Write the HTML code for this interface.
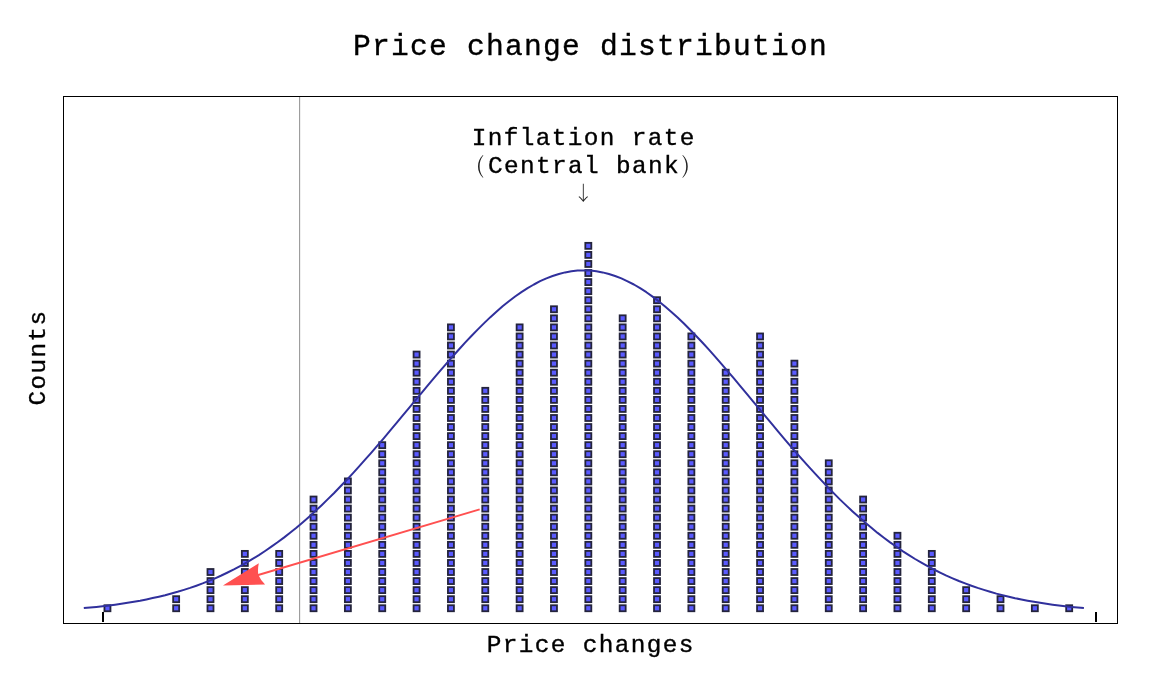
<!DOCTYPE html>
<html lang="en"><head><meta charset="utf-8"><title>Price change distribution</title>
<style>html,body{margin:0;padding:0;background:#fff;overflow:hidden}svg{display:block}text{font-family:"Liberation Mono","DejaVu Sans Mono",monospace;fill:#000;stroke:#000;stroke-width:.35px}.t{font-size:29.6px;letter-spacing:1.24px}.a{font-size:24.4px;letter-spacing:1.36px}.p{font-family:"Noto Serif CJK SC","Liberation Serif",serif;font-size:22px;letter-spacing:0;stroke:none;fill:#222}.m rect{fill:#5a5aff;stroke:#24243c;stroke-width:1.8}</style></head><body>
<svg width="1152" height="687" viewBox="0 0 1152 687">
<rect width="1152" height="687" fill="#fff"/>
<line x1="299.6" y1="97" x2="299.6" y2="623" stroke="#999" stroke-width="1.1"/>
<g class="m">
<rect x="104.45" y="605.25" width="6.00" height="6.00"/>
<rect x="173.15" y="605.25" width="6.00" height="6.00"/>
<rect x="173.15" y="596.19" width="6.00" height="6.00"/>
<rect x="207.49" y="605.25" width="6.00" height="6.00"/>
<rect x="207.49" y="596.19" width="6.00" height="6.00"/>
<rect x="207.49" y="587.13" width="6.00" height="6.00"/>
<rect x="207.49" y="578.07" width="6.00" height="6.00"/>
<rect x="207.49" y="569.01" width="6.00" height="6.00"/>
<rect x="241.84" y="605.25" width="6.00" height="6.00"/>
<rect x="241.84" y="596.19" width="6.00" height="6.00"/>
<rect x="241.84" y="587.13" width="6.00" height="6.00"/>
<rect x="241.84" y="578.07" width="6.00" height="6.00"/>
<rect x="241.84" y="569.01" width="6.00" height="6.00"/>
<rect x="241.84" y="559.95" width="6.00" height="6.00"/>
<rect x="241.84" y="550.89" width="6.00" height="6.00"/>
<rect x="276.19" y="605.25" width="6.00" height="6.00"/>
<rect x="276.19" y="596.19" width="6.00" height="6.00"/>
<rect x="276.19" y="587.13" width="6.00" height="6.00"/>
<rect x="276.19" y="578.07" width="6.00" height="6.00"/>
<rect x="276.19" y="569.01" width="6.00" height="6.00"/>
<rect x="276.19" y="559.95" width="6.00" height="6.00"/>
<rect x="276.19" y="550.89" width="6.00" height="6.00"/>
<rect x="310.54" y="605.25" width="6.00" height="6.00"/>
<rect x="310.54" y="596.19" width="6.00" height="6.00"/>
<rect x="310.54" y="587.13" width="6.00" height="6.00"/>
<rect x="310.54" y="578.07" width="6.00" height="6.00"/>
<rect x="310.54" y="569.01" width="6.00" height="6.00"/>
<rect x="310.54" y="559.95" width="6.00" height="6.00"/>
<rect x="310.54" y="550.89" width="6.00" height="6.00"/>
<rect x="310.54" y="541.83" width="6.00" height="6.00"/>
<rect x="310.54" y="532.77" width="6.00" height="6.00"/>
<rect x="310.54" y="523.71" width="6.00" height="6.00"/>
<rect x="310.54" y="514.65" width="6.00" height="6.00"/>
<rect x="310.54" y="505.59" width="6.00" height="6.00"/>
<rect x="310.54" y="496.53" width="6.00" height="6.00"/>
<rect x="344.89" y="605.25" width="6.00" height="6.00"/>
<rect x="344.89" y="596.19" width="6.00" height="6.00"/>
<rect x="344.89" y="587.13" width="6.00" height="6.00"/>
<rect x="344.89" y="578.07" width="6.00" height="6.00"/>
<rect x="344.89" y="569.01" width="6.00" height="6.00"/>
<rect x="344.89" y="559.95" width="6.00" height="6.00"/>
<rect x="344.89" y="550.89" width="6.00" height="6.00"/>
<rect x="344.89" y="541.83" width="6.00" height="6.00"/>
<rect x="344.89" y="532.77" width="6.00" height="6.00"/>
<rect x="344.89" y="523.71" width="6.00" height="6.00"/>
<rect x="344.89" y="514.65" width="6.00" height="6.00"/>
<rect x="344.89" y="505.59" width="6.00" height="6.00"/>
<rect x="344.89" y="496.53" width="6.00" height="6.00"/>
<rect x="344.89" y="487.47" width="6.00" height="6.00"/>
<rect x="344.89" y="478.41" width="6.00" height="6.00"/>
<rect x="379.23" y="605.25" width="6.00" height="6.00"/>
<rect x="379.23" y="596.19" width="6.00" height="6.00"/>
<rect x="379.23" y="587.13" width="6.00" height="6.00"/>
<rect x="379.23" y="578.07" width="6.00" height="6.00"/>
<rect x="379.23" y="569.01" width="6.00" height="6.00"/>
<rect x="379.23" y="559.95" width="6.00" height="6.00"/>
<rect x="379.23" y="550.89" width="6.00" height="6.00"/>
<rect x="379.23" y="541.83" width="6.00" height="6.00"/>
<rect x="379.23" y="532.77" width="6.00" height="6.00"/>
<rect x="379.23" y="523.71" width="6.00" height="6.00"/>
<rect x="379.23" y="514.65" width="6.00" height="6.00"/>
<rect x="379.23" y="505.59" width="6.00" height="6.00"/>
<rect x="379.23" y="496.53" width="6.00" height="6.00"/>
<rect x="379.23" y="487.47" width="6.00" height="6.00"/>
<rect x="379.23" y="478.41" width="6.00" height="6.00"/>
<rect x="379.23" y="469.35" width="6.00" height="6.00"/>
<rect x="379.23" y="460.29" width="6.00" height="6.00"/>
<rect x="379.23" y="451.23" width="6.00" height="6.00"/>
<rect x="379.23" y="442.17" width="6.00" height="6.00"/>
<rect x="413.58" y="605.25" width="6.00" height="6.00"/>
<rect x="413.58" y="596.19" width="6.00" height="6.00"/>
<rect x="413.58" y="587.13" width="6.00" height="6.00"/>
<rect x="413.58" y="578.07" width="6.00" height="6.00"/>
<rect x="413.58" y="569.01" width="6.00" height="6.00"/>
<rect x="413.58" y="559.95" width="6.00" height="6.00"/>
<rect x="413.58" y="550.89" width="6.00" height="6.00"/>
<rect x="413.58" y="541.83" width="6.00" height="6.00"/>
<rect x="413.58" y="532.77" width="6.00" height="6.00"/>
<rect x="413.58" y="523.71" width="6.00" height="6.00"/>
<rect x="413.58" y="514.65" width="6.00" height="6.00"/>
<rect x="413.58" y="505.59" width="6.00" height="6.00"/>
<rect x="413.58" y="496.53" width="6.00" height="6.00"/>
<rect x="413.58" y="487.47" width="6.00" height="6.00"/>
<rect x="413.58" y="478.41" width="6.00" height="6.00"/>
<rect x="413.58" y="469.35" width="6.00" height="6.00"/>
<rect x="413.58" y="460.29" width="6.00" height="6.00"/>
<rect x="413.58" y="451.23" width="6.00" height="6.00"/>
<rect x="413.58" y="442.17" width="6.00" height="6.00"/>
<rect x="413.58" y="433.11" width="6.00" height="6.00"/>
<rect x="413.58" y="424.05" width="6.00" height="6.00"/>
<rect x="413.58" y="414.99" width="6.00" height="6.00"/>
<rect x="413.58" y="405.93" width="6.00" height="6.00"/>
<rect x="413.58" y="396.87" width="6.00" height="6.00"/>
<rect x="413.58" y="387.81" width="6.00" height="6.00"/>
<rect x="413.58" y="378.75" width="6.00" height="6.00"/>
<rect x="413.58" y="369.69" width="6.00" height="6.00"/>
<rect x="413.58" y="360.63" width="6.00" height="6.00"/>
<rect x="413.58" y="351.57" width="6.00" height="6.00"/>
<rect x="447.93" y="605.25" width="6.00" height="6.00"/>
<rect x="447.93" y="596.19" width="6.00" height="6.00"/>
<rect x="447.93" y="587.13" width="6.00" height="6.00"/>
<rect x="447.93" y="578.07" width="6.00" height="6.00"/>
<rect x="447.93" y="569.01" width="6.00" height="6.00"/>
<rect x="447.93" y="559.95" width="6.00" height="6.00"/>
<rect x="447.93" y="550.89" width="6.00" height="6.00"/>
<rect x="447.93" y="541.83" width="6.00" height="6.00"/>
<rect x="447.93" y="532.77" width="6.00" height="6.00"/>
<rect x="447.93" y="523.71" width="6.00" height="6.00"/>
<rect x="447.93" y="514.65" width="6.00" height="6.00"/>
<rect x="447.93" y="505.59" width="6.00" height="6.00"/>
<rect x="447.93" y="496.53" width="6.00" height="6.00"/>
<rect x="447.93" y="487.47" width="6.00" height="6.00"/>
<rect x="447.93" y="478.41" width="6.00" height="6.00"/>
<rect x="447.93" y="469.35" width="6.00" height="6.00"/>
<rect x="447.93" y="460.29" width="6.00" height="6.00"/>
<rect x="447.93" y="451.23" width="6.00" height="6.00"/>
<rect x="447.93" y="442.17" width="6.00" height="6.00"/>
<rect x="447.93" y="433.11" width="6.00" height="6.00"/>
<rect x="447.93" y="424.05" width="6.00" height="6.00"/>
<rect x="447.93" y="414.99" width="6.00" height="6.00"/>
<rect x="447.93" y="405.93" width="6.00" height="6.00"/>
<rect x="447.93" y="396.87" width="6.00" height="6.00"/>
<rect x="447.93" y="387.81" width="6.00" height="6.00"/>
<rect x="447.93" y="378.75" width="6.00" height="6.00"/>
<rect x="447.93" y="369.69" width="6.00" height="6.00"/>
<rect x="447.93" y="360.63" width="6.00" height="6.00"/>
<rect x="447.93" y="351.57" width="6.00" height="6.00"/>
<rect x="447.93" y="342.51" width="6.00" height="6.00"/>
<rect x="447.93" y="333.45" width="6.00" height="6.00"/>
<rect x="447.93" y="324.39" width="6.00" height="6.00"/>
<rect x="482.28" y="605.25" width="6.00" height="6.00"/>
<rect x="482.28" y="596.19" width="6.00" height="6.00"/>
<rect x="482.28" y="587.13" width="6.00" height="6.00"/>
<rect x="482.28" y="578.07" width="6.00" height="6.00"/>
<rect x="482.28" y="569.01" width="6.00" height="6.00"/>
<rect x="482.28" y="559.95" width="6.00" height="6.00"/>
<rect x="482.28" y="550.89" width="6.00" height="6.00"/>
<rect x="482.28" y="541.83" width="6.00" height="6.00"/>
<rect x="482.28" y="532.77" width="6.00" height="6.00"/>
<rect x="482.28" y="523.71" width="6.00" height="6.00"/>
<rect x="482.28" y="514.65" width="6.00" height="6.00"/>
<rect x="482.28" y="505.59" width="6.00" height="6.00"/>
<rect x="482.28" y="496.53" width="6.00" height="6.00"/>
<rect x="482.28" y="487.47" width="6.00" height="6.00"/>
<rect x="482.28" y="478.41" width="6.00" height="6.00"/>
<rect x="482.28" y="469.35" width="6.00" height="6.00"/>
<rect x="482.28" y="460.29" width="6.00" height="6.00"/>
<rect x="482.28" y="451.23" width="6.00" height="6.00"/>
<rect x="482.28" y="442.17" width="6.00" height="6.00"/>
<rect x="482.28" y="433.11" width="6.00" height="6.00"/>
<rect x="482.28" y="424.05" width="6.00" height="6.00"/>
<rect x="482.28" y="414.99" width="6.00" height="6.00"/>
<rect x="482.28" y="405.93" width="6.00" height="6.00"/>
<rect x="482.28" y="396.87" width="6.00" height="6.00"/>
<rect x="482.28" y="387.81" width="6.00" height="6.00"/>
<rect x="516.63" y="605.25" width="6.00" height="6.00"/>
<rect x="516.63" y="596.19" width="6.00" height="6.00"/>
<rect x="516.63" y="587.13" width="6.00" height="6.00"/>
<rect x="516.63" y="578.07" width="6.00" height="6.00"/>
<rect x="516.63" y="569.01" width="6.00" height="6.00"/>
<rect x="516.63" y="559.95" width="6.00" height="6.00"/>
<rect x="516.63" y="550.89" width="6.00" height="6.00"/>
<rect x="516.63" y="541.83" width="6.00" height="6.00"/>
<rect x="516.63" y="532.77" width="6.00" height="6.00"/>
<rect x="516.63" y="523.71" width="6.00" height="6.00"/>
<rect x="516.63" y="514.65" width="6.00" height="6.00"/>
<rect x="516.63" y="505.59" width="6.00" height="6.00"/>
<rect x="516.63" y="496.53" width="6.00" height="6.00"/>
<rect x="516.63" y="487.47" width="6.00" height="6.00"/>
<rect x="516.63" y="478.41" width="6.00" height="6.00"/>
<rect x="516.63" y="469.35" width="6.00" height="6.00"/>
<rect x="516.63" y="460.29" width="6.00" height="6.00"/>
<rect x="516.63" y="451.23" width="6.00" height="6.00"/>
<rect x="516.63" y="442.17" width="6.00" height="6.00"/>
<rect x="516.63" y="433.11" width="6.00" height="6.00"/>
<rect x="516.63" y="424.05" width="6.00" height="6.00"/>
<rect x="516.63" y="414.99" width="6.00" height="6.00"/>
<rect x="516.63" y="405.93" width="6.00" height="6.00"/>
<rect x="516.63" y="396.87" width="6.00" height="6.00"/>
<rect x="516.63" y="387.81" width="6.00" height="6.00"/>
<rect x="516.63" y="378.75" width="6.00" height="6.00"/>
<rect x="516.63" y="369.69" width="6.00" height="6.00"/>
<rect x="516.63" y="360.63" width="6.00" height="6.00"/>
<rect x="516.63" y="351.57" width="6.00" height="6.00"/>
<rect x="516.63" y="342.51" width="6.00" height="6.00"/>
<rect x="516.63" y="333.45" width="6.00" height="6.00"/>
<rect x="516.63" y="324.39" width="6.00" height="6.00"/>
<rect x="550.97" y="605.25" width="6.00" height="6.00"/>
<rect x="550.97" y="596.19" width="6.00" height="6.00"/>
<rect x="550.97" y="587.13" width="6.00" height="6.00"/>
<rect x="550.97" y="578.07" width="6.00" height="6.00"/>
<rect x="550.97" y="569.01" width="6.00" height="6.00"/>
<rect x="550.97" y="559.95" width="6.00" height="6.00"/>
<rect x="550.97" y="550.89" width="6.00" height="6.00"/>
<rect x="550.97" y="541.83" width="6.00" height="6.00"/>
<rect x="550.97" y="532.77" width="6.00" height="6.00"/>
<rect x="550.97" y="523.71" width="6.00" height="6.00"/>
<rect x="550.97" y="514.65" width="6.00" height="6.00"/>
<rect x="550.97" y="505.59" width="6.00" height="6.00"/>
<rect x="550.97" y="496.53" width="6.00" height="6.00"/>
<rect x="550.97" y="487.47" width="6.00" height="6.00"/>
<rect x="550.97" y="478.41" width="6.00" height="6.00"/>
<rect x="550.97" y="469.35" width="6.00" height="6.00"/>
<rect x="550.97" y="460.29" width="6.00" height="6.00"/>
<rect x="550.97" y="451.23" width="6.00" height="6.00"/>
<rect x="550.97" y="442.17" width="6.00" height="6.00"/>
<rect x="550.97" y="433.11" width="6.00" height="6.00"/>
<rect x="550.97" y="424.05" width="6.00" height="6.00"/>
<rect x="550.97" y="414.99" width="6.00" height="6.00"/>
<rect x="550.97" y="405.93" width="6.00" height="6.00"/>
<rect x="550.97" y="396.87" width="6.00" height="6.00"/>
<rect x="550.97" y="387.81" width="6.00" height="6.00"/>
<rect x="550.97" y="378.75" width="6.00" height="6.00"/>
<rect x="550.97" y="369.69" width="6.00" height="6.00"/>
<rect x="550.97" y="360.63" width="6.00" height="6.00"/>
<rect x="550.97" y="351.57" width="6.00" height="6.00"/>
<rect x="550.97" y="342.51" width="6.00" height="6.00"/>
<rect x="550.97" y="333.45" width="6.00" height="6.00"/>
<rect x="550.97" y="324.39" width="6.00" height="6.00"/>
<rect x="550.97" y="315.33" width="6.00" height="6.00"/>
<rect x="550.97" y="306.27" width="6.00" height="6.00"/>
<rect x="585.32" y="605.25" width="6.00" height="6.00"/>
<rect x="585.32" y="596.19" width="6.00" height="6.00"/>
<rect x="585.32" y="587.13" width="6.00" height="6.00"/>
<rect x="585.32" y="578.07" width="6.00" height="6.00"/>
<rect x="585.32" y="569.01" width="6.00" height="6.00"/>
<rect x="585.32" y="559.95" width="6.00" height="6.00"/>
<rect x="585.32" y="550.89" width="6.00" height="6.00"/>
<rect x="585.32" y="541.83" width="6.00" height="6.00"/>
<rect x="585.32" y="532.77" width="6.00" height="6.00"/>
<rect x="585.32" y="523.71" width="6.00" height="6.00"/>
<rect x="585.32" y="514.65" width="6.00" height="6.00"/>
<rect x="585.32" y="505.59" width="6.00" height="6.00"/>
<rect x="585.32" y="496.53" width="6.00" height="6.00"/>
<rect x="585.32" y="487.47" width="6.00" height="6.00"/>
<rect x="585.32" y="478.41" width="6.00" height="6.00"/>
<rect x="585.32" y="469.35" width="6.00" height="6.00"/>
<rect x="585.32" y="460.29" width="6.00" height="6.00"/>
<rect x="585.32" y="451.23" width="6.00" height="6.00"/>
<rect x="585.32" y="442.17" width="6.00" height="6.00"/>
<rect x="585.32" y="433.11" width="6.00" height="6.00"/>
<rect x="585.32" y="424.05" width="6.00" height="6.00"/>
<rect x="585.32" y="414.99" width="6.00" height="6.00"/>
<rect x="585.32" y="405.93" width="6.00" height="6.00"/>
<rect x="585.32" y="396.87" width="6.00" height="6.00"/>
<rect x="585.32" y="387.81" width="6.00" height="6.00"/>
<rect x="585.32" y="378.75" width="6.00" height="6.00"/>
<rect x="585.32" y="369.69" width="6.00" height="6.00"/>
<rect x="585.32" y="360.63" width="6.00" height="6.00"/>
<rect x="585.32" y="351.57" width="6.00" height="6.00"/>
<rect x="585.32" y="342.51" width="6.00" height="6.00"/>
<rect x="585.32" y="333.45" width="6.00" height="6.00"/>
<rect x="585.32" y="324.39" width="6.00" height="6.00"/>
<rect x="585.32" y="315.33" width="6.00" height="6.00"/>
<rect x="585.32" y="306.27" width="6.00" height="6.00"/>
<rect x="585.32" y="297.21" width="6.00" height="6.00"/>
<rect x="585.32" y="288.15" width="6.00" height="6.00"/>
<rect x="585.32" y="279.09" width="6.00" height="6.00"/>
<rect x="585.32" y="270.03" width="6.00" height="6.00"/>
<rect x="585.32" y="260.97" width="6.00" height="6.00"/>
<rect x="585.32" y="251.91" width="6.00" height="6.00"/>
<rect x="585.32" y="242.85" width="6.00" height="6.00"/>
<rect x="619.67" y="605.25" width="6.00" height="6.00"/>
<rect x="619.67" y="596.19" width="6.00" height="6.00"/>
<rect x="619.67" y="587.13" width="6.00" height="6.00"/>
<rect x="619.67" y="578.07" width="6.00" height="6.00"/>
<rect x="619.67" y="569.01" width="6.00" height="6.00"/>
<rect x="619.67" y="559.95" width="6.00" height="6.00"/>
<rect x="619.67" y="550.89" width="6.00" height="6.00"/>
<rect x="619.67" y="541.83" width="6.00" height="6.00"/>
<rect x="619.67" y="532.77" width="6.00" height="6.00"/>
<rect x="619.67" y="523.71" width="6.00" height="6.00"/>
<rect x="619.67" y="514.65" width="6.00" height="6.00"/>
<rect x="619.67" y="505.59" width="6.00" height="6.00"/>
<rect x="619.67" y="496.53" width="6.00" height="6.00"/>
<rect x="619.67" y="487.47" width="6.00" height="6.00"/>
<rect x="619.67" y="478.41" width="6.00" height="6.00"/>
<rect x="619.67" y="469.35" width="6.00" height="6.00"/>
<rect x="619.67" y="460.29" width="6.00" height="6.00"/>
<rect x="619.67" y="451.23" width="6.00" height="6.00"/>
<rect x="619.67" y="442.17" width="6.00" height="6.00"/>
<rect x="619.67" y="433.11" width="6.00" height="6.00"/>
<rect x="619.67" y="424.05" width="6.00" height="6.00"/>
<rect x="619.67" y="414.99" width="6.00" height="6.00"/>
<rect x="619.67" y="405.93" width="6.00" height="6.00"/>
<rect x="619.67" y="396.87" width="6.00" height="6.00"/>
<rect x="619.67" y="387.81" width="6.00" height="6.00"/>
<rect x="619.67" y="378.75" width="6.00" height="6.00"/>
<rect x="619.67" y="369.69" width="6.00" height="6.00"/>
<rect x="619.67" y="360.63" width="6.00" height="6.00"/>
<rect x="619.67" y="351.57" width="6.00" height="6.00"/>
<rect x="619.67" y="342.51" width="6.00" height="6.00"/>
<rect x="619.67" y="333.45" width="6.00" height="6.00"/>
<rect x="619.67" y="324.39" width="6.00" height="6.00"/>
<rect x="619.67" y="315.33" width="6.00" height="6.00"/>
<rect x="654.02" y="605.25" width="6.00" height="6.00"/>
<rect x="654.02" y="596.19" width="6.00" height="6.00"/>
<rect x="654.02" y="587.13" width="6.00" height="6.00"/>
<rect x="654.02" y="578.07" width="6.00" height="6.00"/>
<rect x="654.02" y="569.01" width="6.00" height="6.00"/>
<rect x="654.02" y="559.95" width="6.00" height="6.00"/>
<rect x="654.02" y="550.89" width="6.00" height="6.00"/>
<rect x="654.02" y="541.83" width="6.00" height="6.00"/>
<rect x="654.02" y="532.77" width="6.00" height="6.00"/>
<rect x="654.02" y="523.71" width="6.00" height="6.00"/>
<rect x="654.02" y="514.65" width="6.00" height="6.00"/>
<rect x="654.02" y="505.59" width="6.00" height="6.00"/>
<rect x="654.02" y="496.53" width="6.00" height="6.00"/>
<rect x="654.02" y="487.47" width="6.00" height="6.00"/>
<rect x="654.02" y="478.41" width="6.00" height="6.00"/>
<rect x="654.02" y="469.35" width="6.00" height="6.00"/>
<rect x="654.02" y="460.29" width="6.00" height="6.00"/>
<rect x="654.02" y="451.23" width="6.00" height="6.00"/>
<rect x="654.02" y="442.17" width="6.00" height="6.00"/>
<rect x="654.02" y="433.11" width="6.00" height="6.00"/>
<rect x="654.02" y="424.05" width="6.00" height="6.00"/>
<rect x="654.02" y="414.99" width="6.00" height="6.00"/>
<rect x="654.02" y="405.93" width="6.00" height="6.00"/>
<rect x="654.02" y="396.87" width="6.00" height="6.00"/>
<rect x="654.02" y="387.81" width="6.00" height="6.00"/>
<rect x="654.02" y="378.75" width="6.00" height="6.00"/>
<rect x="654.02" y="369.69" width="6.00" height="6.00"/>
<rect x="654.02" y="360.63" width="6.00" height="6.00"/>
<rect x="654.02" y="351.57" width="6.00" height="6.00"/>
<rect x="654.02" y="342.51" width="6.00" height="6.00"/>
<rect x="654.02" y="333.45" width="6.00" height="6.00"/>
<rect x="654.02" y="324.39" width="6.00" height="6.00"/>
<rect x="654.02" y="315.33" width="6.00" height="6.00"/>
<rect x="654.02" y="306.27" width="6.00" height="6.00"/>
<rect x="654.02" y="297.21" width="6.00" height="6.00"/>
<rect x="688.37" y="605.25" width="6.00" height="6.00"/>
<rect x="688.37" y="596.19" width="6.00" height="6.00"/>
<rect x="688.37" y="587.13" width="6.00" height="6.00"/>
<rect x="688.37" y="578.07" width="6.00" height="6.00"/>
<rect x="688.37" y="569.01" width="6.00" height="6.00"/>
<rect x="688.37" y="559.95" width="6.00" height="6.00"/>
<rect x="688.37" y="550.89" width="6.00" height="6.00"/>
<rect x="688.37" y="541.83" width="6.00" height="6.00"/>
<rect x="688.37" y="532.77" width="6.00" height="6.00"/>
<rect x="688.37" y="523.71" width="6.00" height="6.00"/>
<rect x="688.37" y="514.65" width="6.00" height="6.00"/>
<rect x="688.37" y="505.59" width="6.00" height="6.00"/>
<rect x="688.37" y="496.53" width="6.00" height="6.00"/>
<rect x="688.37" y="487.47" width="6.00" height="6.00"/>
<rect x="688.37" y="478.41" width="6.00" height="6.00"/>
<rect x="688.37" y="469.35" width="6.00" height="6.00"/>
<rect x="688.37" y="460.29" width="6.00" height="6.00"/>
<rect x="688.37" y="451.23" width="6.00" height="6.00"/>
<rect x="688.37" y="442.17" width="6.00" height="6.00"/>
<rect x="688.37" y="433.11" width="6.00" height="6.00"/>
<rect x="688.37" y="424.05" width="6.00" height="6.00"/>
<rect x="688.37" y="414.99" width="6.00" height="6.00"/>
<rect x="688.37" y="405.93" width="6.00" height="6.00"/>
<rect x="688.37" y="396.87" width="6.00" height="6.00"/>
<rect x="688.37" y="387.81" width="6.00" height="6.00"/>
<rect x="688.37" y="378.75" width="6.00" height="6.00"/>
<rect x="688.37" y="369.69" width="6.00" height="6.00"/>
<rect x="688.37" y="360.63" width="6.00" height="6.00"/>
<rect x="688.37" y="351.57" width="6.00" height="6.00"/>
<rect x="688.37" y="342.51" width="6.00" height="6.00"/>
<rect x="688.37" y="333.45" width="6.00" height="6.00"/>
<rect x="722.71" y="605.25" width="6.00" height="6.00"/>
<rect x="722.71" y="596.19" width="6.00" height="6.00"/>
<rect x="722.71" y="587.13" width="6.00" height="6.00"/>
<rect x="722.71" y="578.07" width="6.00" height="6.00"/>
<rect x="722.71" y="569.01" width="6.00" height="6.00"/>
<rect x="722.71" y="559.95" width="6.00" height="6.00"/>
<rect x="722.71" y="550.89" width="6.00" height="6.00"/>
<rect x="722.71" y="541.83" width="6.00" height="6.00"/>
<rect x="722.71" y="532.77" width="6.00" height="6.00"/>
<rect x="722.71" y="523.71" width="6.00" height="6.00"/>
<rect x="722.71" y="514.65" width="6.00" height="6.00"/>
<rect x="722.71" y="505.59" width="6.00" height="6.00"/>
<rect x="722.71" y="496.53" width="6.00" height="6.00"/>
<rect x="722.71" y="487.47" width="6.00" height="6.00"/>
<rect x="722.71" y="478.41" width="6.00" height="6.00"/>
<rect x="722.71" y="469.35" width="6.00" height="6.00"/>
<rect x="722.71" y="460.29" width="6.00" height="6.00"/>
<rect x="722.71" y="451.23" width="6.00" height="6.00"/>
<rect x="722.71" y="442.17" width="6.00" height="6.00"/>
<rect x="722.71" y="433.11" width="6.00" height="6.00"/>
<rect x="722.71" y="424.05" width="6.00" height="6.00"/>
<rect x="722.71" y="414.99" width="6.00" height="6.00"/>
<rect x="722.71" y="405.93" width="6.00" height="6.00"/>
<rect x="722.71" y="396.87" width="6.00" height="6.00"/>
<rect x="722.71" y="387.81" width="6.00" height="6.00"/>
<rect x="722.71" y="378.75" width="6.00" height="6.00"/>
<rect x="722.71" y="369.69" width="6.00" height="6.00"/>
<rect x="757.06" y="605.25" width="6.00" height="6.00"/>
<rect x="757.06" y="596.19" width="6.00" height="6.00"/>
<rect x="757.06" y="587.13" width="6.00" height="6.00"/>
<rect x="757.06" y="578.07" width="6.00" height="6.00"/>
<rect x="757.06" y="569.01" width="6.00" height="6.00"/>
<rect x="757.06" y="559.95" width="6.00" height="6.00"/>
<rect x="757.06" y="550.89" width="6.00" height="6.00"/>
<rect x="757.06" y="541.83" width="6.00" height="6.00"/>
<rect x="757.06" y="532.77" width="6.00" height="6.00"/>
<rect x="757.06" y="523.71" width="6.00" height="6.00"/>
<rect x="757.06" y="514.65" width="6.00" height="6.00"/>
<rect x="757.06" y="505.59" width="6.00" height="6.00"/>
<rect x="757.06" y="496.53" width="6.00" height="6.00"/>
<rect x="757.06" y="487.47" width="6.00" height="6.00"/>
<rect x="757.06" y="478.41" width="6.00" height="6.00"/>
<rect x="757.06" y="469.35" width="6.00" height="6.00"/>
<rect x="757.06" y="460.29" width="6.00" height="6.00"/>
<rect x="757.06" y="451.23" width="6.00" height="6.00"/>
<rect x="757.06" y="442.17" width="6.00" height="6.00"/>
<rect x="757.06" y="433.11" width="6.00" height="6.00"/>
<rect x="757.06" y="424.05" width="6.00" height="6.00"/>
<rect x="757.06" y="414.99" width="6.00" height="6.00"/>
<rect x="757.06" y="405.93" width="6.00" height="6.00"/>
<rect x="757.06" y="396.87" width="6.00" height="6.00"/>
<rect x="757.06" y="387.81" width="6.00" height="6.00"/>
<rect x="757.06" y="378.75" width="6.00" height="6.00"/>
<rect x="757.06" y="369.69" width="6.00" height="6.00"/>
<rect x="757.06" y="360.63" width="6.00" height="6.00"/>
<rect x="757.06" y="351.57" width="6.00" height="6.00"/>
<rect x="757.06" y="342.51" width="6.00" height="6.00"/>
<rect x="757.06" y="333.45" width="6.00" height="6.00"/>
<rect x="791.41" y="605.25" width="6.00" height="6.00"/>
<rect x="791.41" y="596.19" width="6.00" height="6.00"/>
<rect x="791.41" y="587.13" width="6.00" height="6.00"/>
<rect x="791.41" y="578.07" width="6.00" height="6.00"/>
<rect x="791.41" y="569.01" width="6.00" height="6.00"/>
<rect x="791.41" y="559.95" width="6.00" height="6.00"/>
<rect x="791.41" y="550.89" width="6.00" height="6.00"/>
<rect x="791.41" y="541.83" width="6.00" height="6.00"/>
<rect x="791.41" y="532.77" width="6.00" height="6.00"/>
<rect x="791.41" y="523.71" width="6.00" height="6.00"/>
<rect x="791.41" y="514.65" width="6.00" height="6.00"/>
<rect x="791.41" y="505.59" width="6.00" height="6.00"/>
<rect x="791.41" y="496.53" width="6.00" height="6.00"/>
<rect x="791.41" y="487.47" width="6.00" height="6.00"/>
<rect x="791.41" y="478.41" width="6.00" height="6.00"/>
<rect x="791.41" y="469.35" width="6.00" height="6.00"/>
<rect x="791.41" y="460.29" width="6.00" height="6.00"/>
<rect x="791.41" y="451.23" width="6.00" height="6.00"/>
<rect x="791.41" y="442.17" width="6.00" height="6.00"/>
<rect x="791.41" y="433.11" width="6.00" height="6.00"/>
<rect x="791.41" y="424.05" width="6.00" height="6.00"/>
<rect x="791.41" y="414.99" width="6.00" height="6.00"/>
<rect x="791.41" y="405.93" width="6.00" height="6.00"/>
<rect x="791.41" y="396.87" width="6.00" height="6.00"/>
<rect x="791.41" y="387.81" width="6.00" height="6.00"/>
<rect x="791.41" y="378.75" width="6.00" height="6.00"/>
<rect x="791.41" y="369.69" width="6.00" height="6.00"/>
<rect x="791.41" y="360.63" width="6.00" height="6.00"/>
<rect x="825.76" y="605.25" width="6.00" height="6.00"/>
<rect x="825.76" y="596.19" width="6.00" height="6.00"/>
<rect x="825.76" y="587.13" width="6.00" height="6.00"/>
<rect x="825.76" y="578.07" width="6.00" height="6.00"/>
<rect x="825.76" y="569.01" width="6.00" height="6.00"/>
<rect x="825.76" y="559.95" width="6.00" height="6.00"/>
<rect x="825.76" y="550.89" width="6.00" height="6.00"/>
<rect x="825.76" y="541.83" width="6.00" height="6.00"/>
<rect x="825.76" y="532.77" width="6.00" height="6.00"/>
<rect x="825.76" y="523.71" width="6.00" height="6.00"/>
<rect x="825.76" y="514.65" width="6.00" height="6.00"/>
<rect x="825.76" y="505.59" width="6.00" height="6.00"/>
<rect x="825.76" y="496.53" width="6.00" height="6.00"/>
<rect x="825.76" y="487.47" width="6.00" height="6.00"/>
<rect x="825.76" y="478.41" width="6.00" height="6.00"/>
<rect x="825.76" y="469.35" width="6.00" height="6.00"/>
<rect x="825.76" y="460.29" width="6.00" height="6.00"/>
<rect x="860.11" y="605.25" width="6.00" height="6.00"/>
<rect x="860.11" y="596.19" width="6.00" height="6.00"/>
<rect x="860.11" y="587.13" width="6.00" height="6.00"/>
<rect x="860.11" y="578.07" width="6.00" height="6.00"/>
<rect x="860.11" y="569.01" width="6.00" height="6.00"/>
<rect x="860.11" y="559.95" width="6.00" height="6.00"/>
<rect x="860.11" y="550.89" width="6.00" height="6.00"/>
<rect x="860.11" y="541.83" width="6.00" height="6.00"/>
<rect x="860.11" y="532.77" width="6.00" height="6.00"/>
<rect x="860.11" y="523.71" width="6.00" height="6.00"/>
<rect x="860.11" y="514.65" width="6.00" height="6.00"/>
<rect x="860.11" y="505.59" width="6.00" height="6.00"/>
<rect x="860.11" y="496.53" width="6.00" height="6.00"/>
<rect x="894.45" y="605.25" width="6.00" height="6.00"/>
<rect x="894.45" y="596.19" width="6.00" height="6.00"/>
<rect x="894.45" y="587.13" width="6.00" height="6.00"/>
<rect x="894.45" y="578.07" width="6.00" height="6.00"/>
<rect x="894.45" y="569.01" width="6.00" height="6.00"/>
<rect x="894.45" y="559.95" width="6.00" height="6.00"/>
<rect x="894.45" y="550.89" width="6.00" height="6.00"/>
<rect x="894.45" y="541.83" width="6.00" height="6.00"/>
<rect x="894.45" y="532.77" width="6.00" height="6.00"/>
<rect x="928.80" y="605.25" width="6.00" height="6.00"/>
<rect x="928.80" y="596.19" width="6.00" height="6.00"/>
<rect x="928.80" y="587.13" width="6.00" height="6.00"/>
<rect x="928.80" y="578.07" width="6.00" height="6.00"/>
<rect x="928.80" y="569.01" width="6.00" height="6.00"/>
<rect x="928.80" y="559.95" width="6.00" height="6.00"/>
<rect x="928.80" y="550.89" width="6.00" height="6.00"/>
<rect x="963.15" y="605.25" width="6.00" height="6.00"/>
<rect x="963.15" y="596.19" width="6.00" height="6.00"/>
<rect x="963.15" y="587.13" width="6.00" height="6.00"/>
<rect x="997.50" y="605.25" width="6.00" height="6.00"/>
<rect x="997.50" y="596.19" width="6.00" height="6.00"/>
<rect x="1031.85" y="605.25" width="6.00" height="6.00"/>
<rect x="1066.19" y="605.25" width="6.00" height="6.00"/>
</g>
<path d="M83.8 608.1 L90.1 607.5 L96.4 606.9 L102.6 606.2 L108.9 605.5 L115.1 604.7 L121.4 603.8 L127.6 602.8 L133.9 601.8 L140.1 600.7 L146.4 599.4 L152.6 598.1 L158.9 596.7 L165.1 595.2 L171.4 593.5 L177.6 591.8 L183.9 589.9 L190.1 587.9 L196.4 585.7 L202.6 583.4 L208.9 580.9 L215.1 578.3 L221.4 575.5 L227.6 572.5 L233.9 569.4 L240.1 566.1 L246.4 562.6 L252.6 558.9 L258.9 555.1 L265.1 551.0 L271.4 546.7 L277.6 542.3 L283.9 537.6 L290.1 532.7 L296.4 527.7 L302.6 522.4 L308.9 516.9 L315.1 511.3 L321.4 505.4 L327.6 499.4 L333.9 493.2 L340.1 486.8 L346.4 480.3 L352.6 473.6 L358.9 466.7 L365.1 459.7 L371.4 452.6 L377.6 445.4 L383.9 438.1 L390.1 430.7 L396.4 423.2 L402.6 415.7 L408.9 408.2 L415.1 400.7 L421.4 393.2 L427.6 385.7 L433.9 378.2 L440.1 370.9 L446.4 363.6 L452.6 356.5 L458.9 349.5 L465.1 342.6 L471.4 336.0 L477.6 329.6 L483.9 323.4 L490.1 317.4 L496.4 311.7 L502.6 306.3 L508.9 301.3 L515.1 296.5 L521.4 292.1 L527.6 288.1 L533.9 284.5 L540.1 281.2 L546.4 278.4 L552.6 276.0 L558.9 274.0 L565.1 272.4 L571.4 271.3 L577.6 270.6 L583.9 270.4 L590.1 270.6 L596.4 271.3 L602.6 272.4 L608.9 274.0 L615.1 276.0 L621.4 278.4 L627.6 281.3 L633.9 284.5 L640.1 288.2 L646.4 292.2 L652.6 296.6 L658.9 301.4 L665.1 306.5 L671.4 311.9 L677.6 317.5 L683.9 323.5 L690.1 329.7 L696.4 336.2 L702.6 342.8 L708.9 349.6 L715.1 356.6 L721.4 363.8 L727.6 371.1 L733.9 378.4 L740.1 385.9 L746.4 393.3 L752.6 400.9 L758.9 408.4 L765.1 415.9 L771.4 423.4 L777.6 430.9 L783.9 438.3 L790.1 445.6 L796.4 452.8 L802.6 459.9 L808.9 466.9 L815.1 473.7 L821.4 480.4 L827.6 487.0 L833.9 493.4 L840.1 499.6 L846.4 505.6 L852.6 511.4 L858.9 517.1 L865.1 522.5 L871.4 527.8 L877.6 532.9 L883.9 537.7 L890.1 542.4 L896.4 546.8 L902.6 551.1 L908.9 555.1 L915.1 559.0 L921.4 562.7 L927.6 566.2 L933.9 569.5 L940.1 572.6 L946.4 575.6 L952.6 578.3 L958.9 581.0 L965.1 583.4 L971.4 585.7 L977.6 587.9 L983.9 589.9 L990.1 591.8 L996.4 593.6 L1002.6 595.2 L1008.9 596.7 L1015.1 598.2 L1021.4 599.5 L1027.6 600.7 L1033.9 601.8 L1040.1 602.8 L1046.4 603.8 L1052.6 604.7 L1058.9 605.5 L1065.1 606.2 L1071.4 606.9 L1077.6 607.5 L1083.9 608.1" fill="none" stroke="#30309c" stroke-width="2" stroke-linejoin="round"/>
<line x1="479.7" y1="509.4" x2="256.5" y2="575.5" stroke="#ff5050" stroke-width="2"/>
<path d="M222.9 585.4 L258.8 563.2 Q257.4 570.0 258.4 574.9 Q260.3 579.5 265.1 584.5 Z" fill="#ff5050"/>
<rect x="63.5" y="96.5" width="1054" height="527" fill="none" stroke="#000" stroke-width="1" shape-rendering="crispEdges"/>
<rect x="102" y="612" width="2" height="10" fill="#000" shape-rendering="crispEdges"/>
<rect x="1095" y="612" width="2" height="10" fill="#000" shape-rendering="crispEdges"/>
<text class="t" x="590.5" y="55.4" text-anchor="middle">Price change distribution</text>
<text class="a" x="583.8" y="144.7" text-anchor="middle">Inflation rate</text>
<text class="a" x="584.0" y="172.5" text-anchor="middle">Central bank</text>
<text class="p" x="480.1" y="172.5" text-anchor="middle">(</text>
<text class="p" x="685.7" y="172.5" text-anchor="middle">)</text>
<text class="p" x="583.3" y="200.3" text-anchor="middle" style="font-size:19.6px">↓</text>
<text class="a" x="590.7" y="652.0" text-anchor="middle">Price changes</text>
<text class="a" transform="translate(45.0 357.5) rotate(-90)" text-anchor="middle">Counts</text>
</svg></body></html>
